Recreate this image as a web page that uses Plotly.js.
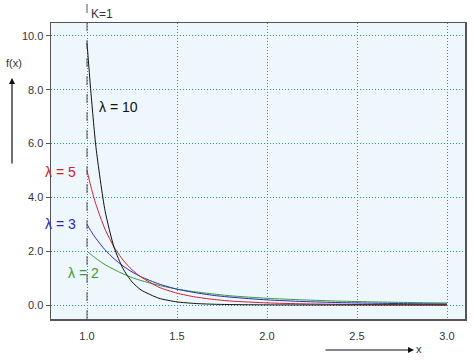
<!DOCTYPE html>
<html>
<head>
<meta charset="utf-8">
<script src="https://cdn.plot.ly/plotly-3.0.1.min.js"></script>
<style>html,body{margin:0;padding:0;background:#fff;}#chart{width:474px;height:360px;}</style>
</head>
<body>
<div id="chart"></div>
<script>
// x values
const xs = [1.0, 1.02, 1.05, 1.1, 1.15, 1.2, 1.25, 1.3, 1.4, 1.5, 1.6, 1.7, 1.8, 2.0, 2.2, 2.4, 2.6, 2.8, 3.0];
// f(x) for each lambda
const lam10 = [9.75, 8.04, 5.85, 3.51, 2.15, 1.35, 0.86, 0.56, 0.25, 0.116, 0.057, 0.029, 0.016, 0.005, 0.002, 0.001, 0.0003, 0.0001, 0.0001];
const lam5  = [5.0, 4.44, 3.73, 2.82, 2.16, 1.67, 1.31, 1.04, 0.66, 0.44, 0.30, 0.21, 0.147, 0.078, 0.044, 0.026, 0.016, 0.010, 0.007];
const lam3  = [3.0, 2.77, 2.47, 2.05, 1.72, 1.45, 1.23, 1.05, 0.78, 0.59, 0.46, 0.36, 0.29, 0.19, 0.13, 0.09, 0.066, 0.049, 0.037];
const lam2  = [2.0, 1.89, 1.73, 1.50, 1.32, 1.16, 1.02, 0.91, 0.73, 0.59, 0.49, 0.41, 0.34, 0.25, 0.19, 0.145, 0.114, 0.091, 0.074];
const xTicks = [1.0, 1.5, 2.0, 2.5, 3.0];
const xTickLabels = ['1.0', '1.5', '2.0', '2.5', '3.0'];
const yTicks = [0, 2, 4, 6, 8, 10];
const yTickLabels = ['0.0', '2.0', '4.0', '6.0', '8.0', '10.0'];
const seriesNames = ['λ = 2', 'λ = 3', 'λ = 5', 'λ = 10'];
const kValue = 1;

const colors = ['#3a9a3a', '#2a2ab8', '#cc2233', '#111111'];
const ys = [lam2, lam3, lam5, lam10];

const traces = ys.map((y, i) => ({
  x: xs, y: y, type: 'scatter', mode: 'lines', name: seriesNames[i],
  line: {color: colors[i], width: 1, shape: 'spline', smoothing: 0.6},
  hoverinfo: 'skip'
}));

const labelFont = {family: 'Liberation Sans, Arial, sans-serif', size: 14};
const gridCol = '#1f9a9a';
const layout = {
  width: 474, height: 360,
  margin: {l: 51, r: 9, t: 23, b: 41},
  paper_bgcolor: '#ffffff',
  plot_bgcolor: '#eef7fc',
  showlegend: false,
  font: {family: 'Liberation Sans, Arial, sans-serif', size: 11, color: '#333'},
  xaxis: {
    range: [0.8, 3.1], tickvals: xTicks, ticktext: xTickLabels,
    showgrid: true, gridcolor: gridCol, griddash: '1px,2px', gridwidth: 1,
    zeroline: false, showline: true, linecolor: '#555', linewidth: 1.5, mirror: true,
    ticks: '', ticklabelstandoff: 6
  },
  yaxis: {
    range: [-0.52, 10.48], tickvals: yTicks, ticktext: yTickLabels,
    showgrid: true, gridcolor: gridCol, griddash: '1px,2px', gridwidth: 1,
    zeroline: false, showline: true, linecolor: '#555', linewidth: 1.5, mirror: true,
    ticks: 'outside', ticklen: 4, tickcolor: '#555'
  },
  shapes: [{
    type: 'line', xref: 'x', yref: 'paper', x0: kValue, x1: kValue, y0: 0, y1: 1.068,
    line: {color: '#555', width: 1, dash: 'dash'}, layer: 'above'
  }],
  annotations: [
    {xref: 'x', yref: 'paper', x: kValue, y: (319-14)/296, text: 'K=1', showarrow: false,
     xanchor: 'left', yanchor: 'middle', xshift: 2, font: {size: 12, color: '#333'}},
    {xref: 'x', yref: 'y', x: 1.175, y: 7.35, text: seriesNames[3], showarrow: false, font: Object.assign({color: '#111'}, labelFont)},
    {xref: 'x', yref: 'y', x: 0.85, y: 4.96, text: seriesNames[2], showarrow: false, font: Object.assign({color: '#cc2233'}, labelFont)},
    {xref: 'x', yref: 'y', x: 0.85, y: 3.02, text: seriesNames[1], showarrow: false, font: Object.assign({color: '#2a2ab8'}, labelFont)},
    {xref: 'x', yref: 'y', x: 0.98, y: 1.20, text: seriesNames[0], showarrow: false, font: Object.assign({color: '#3a9a3a'}, labelFont)},
    // f(x) label with up arrow
    {xref: 'paper', yref: 'paper', x: (14-51)/414, y: (319-63)/296, text: 'f(x)', showarrow: false,
     xanchor: 'center', yanchor: 'middle', font: {size: 11, color: '#333'}},
    {xref: 'paper', yref: 'paper', x: (12-51)/414, y: (319-78)/296, text: '', showarrow: true,
     ax: 0, ay: 87, arrowhead: 2, arrowsize: 1, arrowwidth: 1.2, arrowcolor: '#111', standoff: 0},
    // x label with right arrow
    {xref: 'paper', yref: 'paper', x: (424-51)/414, y: -(349-319)/296, text: 'x', showarrow: false,
     yanchor: 'middle', font: {size: 11, color: '#333'}},
    {xref: 'paper', yref: 'paper', x: (414-51)/414, y: -(350-319)/296, text: '', showarrow: true,
     ax: -90, ay: 0, arrowhead: 2, arrowsize: 1, arrowwidth: 1.2, arrowcolor: '#111', standoff: 0}
  ]
};

Plotly.newPlot('chart', traces, layout, {staticPlot: true, displayModeBar: false});
</script>
</body>
</html>
